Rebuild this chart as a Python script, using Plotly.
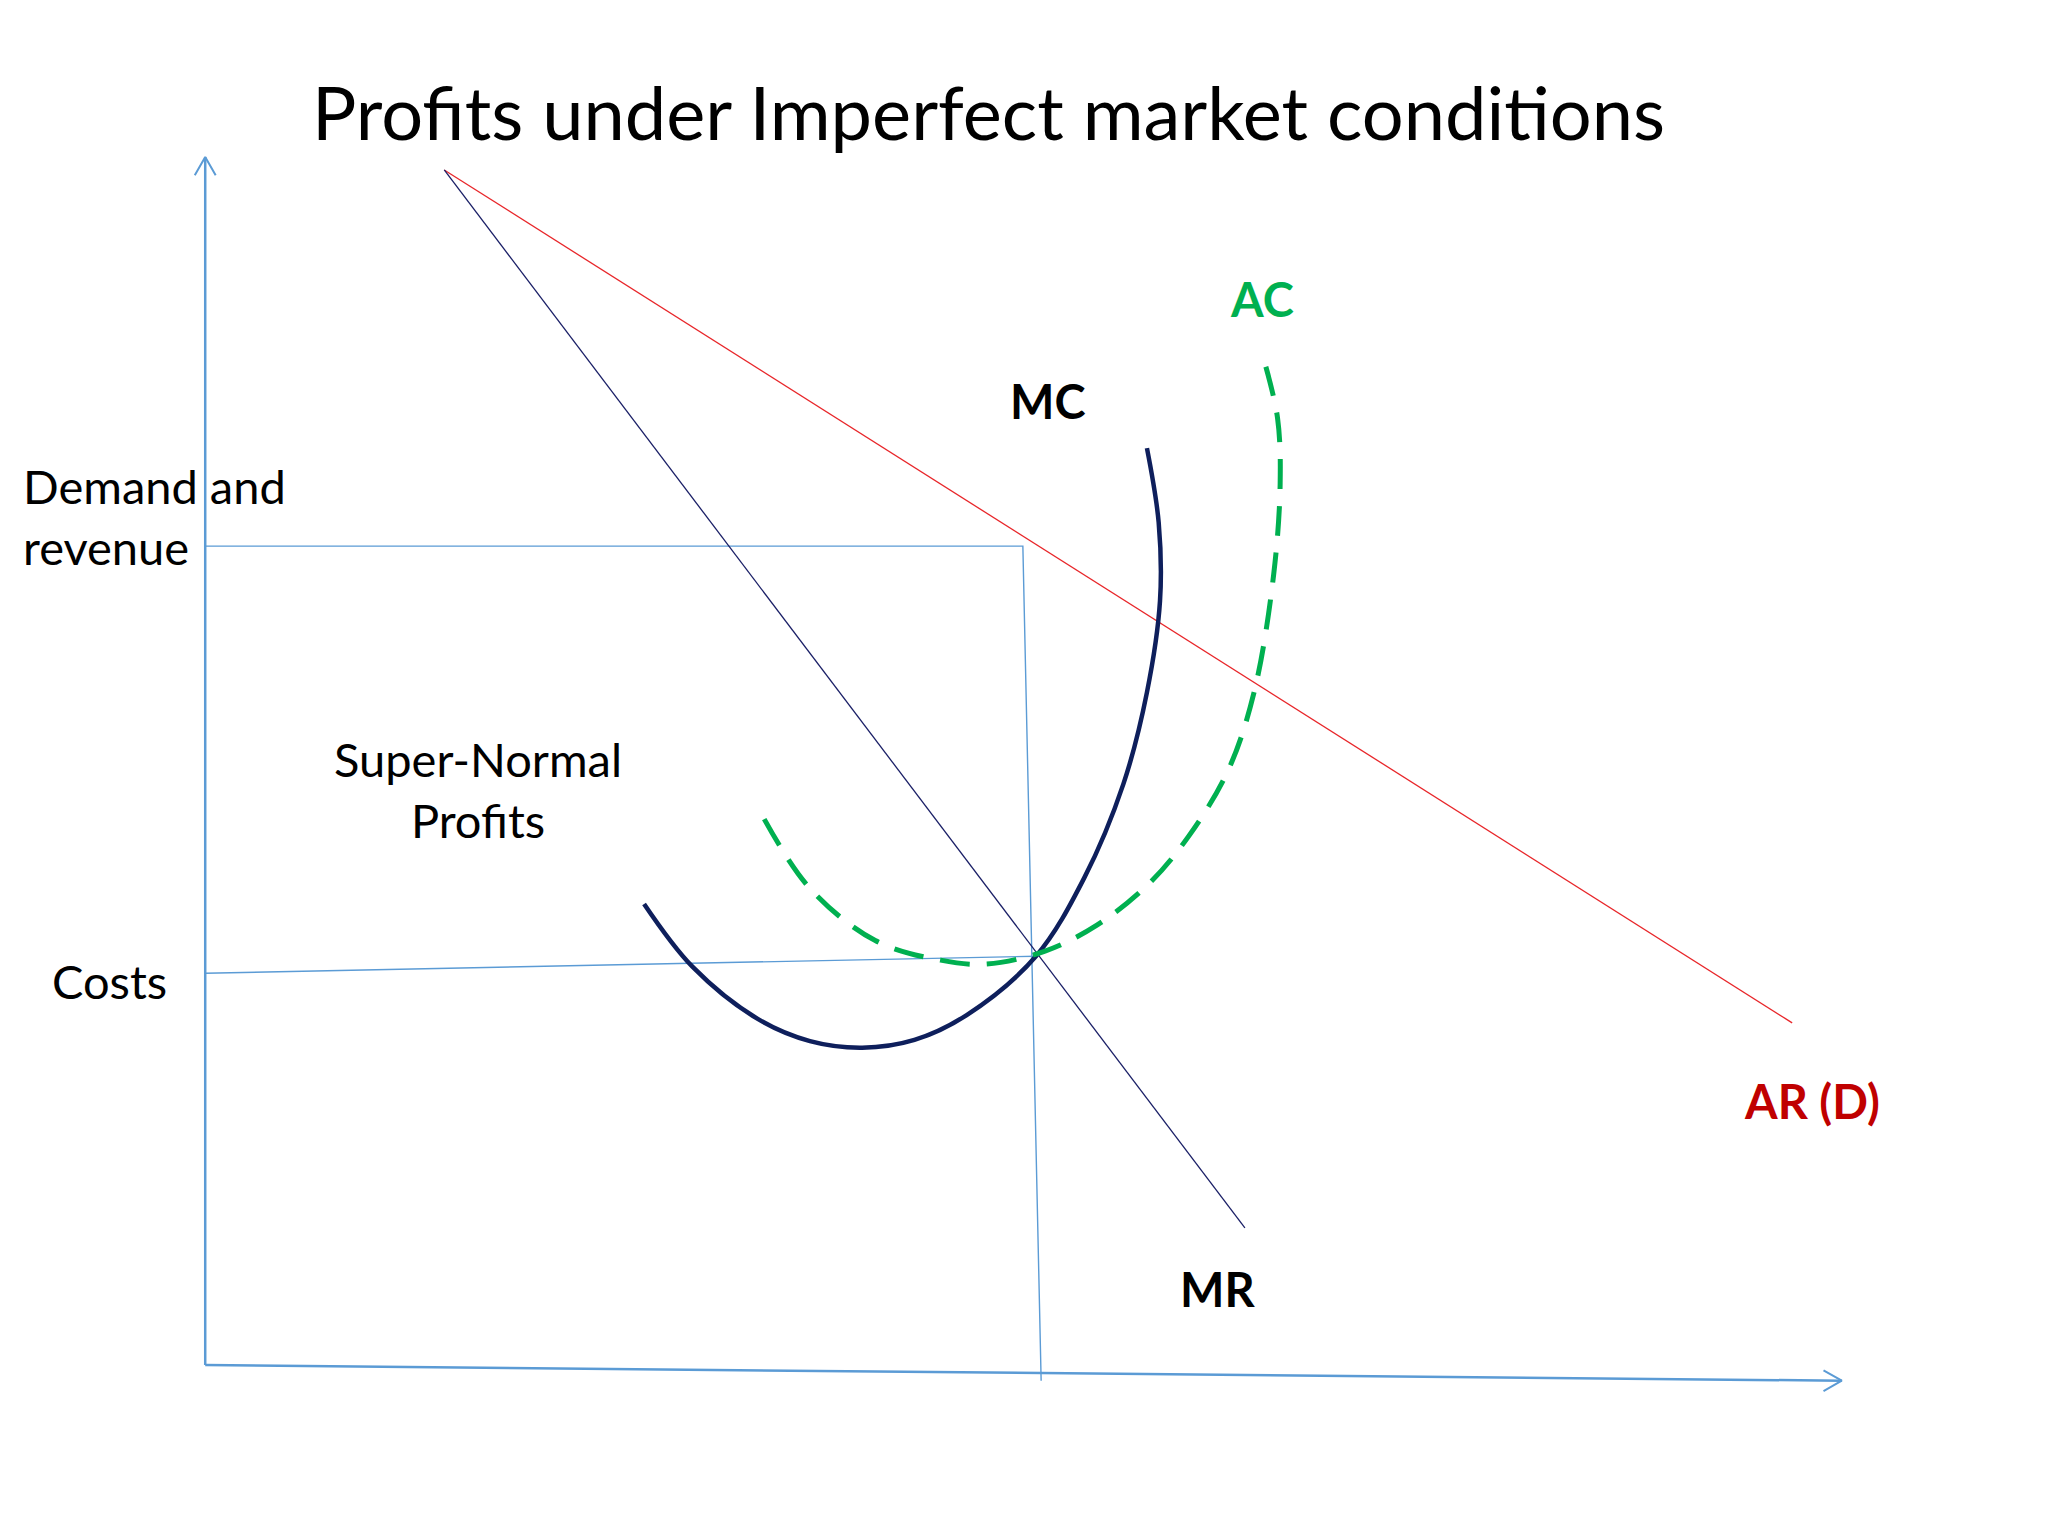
import plotly.graph_objects as go

# Diagram data (quantity on x, price / cost on y)
axis_y_top = 9.25
axis_x_end = [12.53, -0.12]

ar_x = [1.83, 12.15]
ar_y = [9.15, 2.62]

mr_x = [1.83, 7.96]
mr_y = [9.15, 1.05]

price_x = [0.0, 6.26, 6.40]
price_y = [6.27, 6.27, -0.12]

cost_x = [0.0, 6.36]
cost_y = [3.00, 3.13]

mc_x = [3.36, 3.73, 4.23, 4.63, 5.03, 5.43, 5.83, 6.36, 6.73, 7.03, 7.21, 7.31, 7.30, 7.21]
mc_y = [3.53, 3.05, 2.65, 2.48, 2.43, 2.49, 2.68, 3.13, 3.73, 4.45, 5.15, 5.85, 6.45, 7.02]

ac_x = [4.28, 4.63, 5.13, 5.63, 5.98, 6.43, 6.83, 7.23, 7.53, 7.83, 8.03, 8.18, 8.23, 8.21, 8.11]
ac_y = [4.18, 3.65, 3.25, 3.10, 3.07, 3.17, 3.37, 3.69, 4.05, 4.55, 5.15, 6.05, 6.75, 7.25, 7.68]

FONT = "Lato"
AXIS_BLUE = "#5b9bd5"

fig = go.Figure()

# axes
fig.add_trace(go.Scatter(x=[0, 0], y=[0, axis_y_top], mode="lines",
                         line=dict(color=AXIS_BLUE, width=2.5)))
fig.add_trace(go.Scatter(x=[0, axis_x_end[0]], y=[0, axis_x_end[1]], mode="lines",
                         line=dict(color=AXIS_BLUE, width=2.5)))
# open arrow heads
h = 0.14
w = 0.08
fig.add_trace(go.Scatter(x=[-w, 0, w], y=[axis_y_top - h, axis_y_top, axis_y_top - h], mode="lines",
                         line=dict(color=AXIS_BLUE, width=2)))
fig.add_trace(go.Scatter(x=[axis_x_end[0] - h, axis_x_end[0], axis_x_end[0] - h],
                         y=[axis_x_end[1] + w, axis_x_end[1], axis_x_end[1] - w], mode="lines",
                         line=dict(color=AXIS_BLUE, width=2)))

# guide lines
fig.add_trace(go.Scatter(x=price_x, y=price_y, mode="lines", line=dict(color=AXIS_BLUE, width=1.4)))
fig.add_trace(go.Scatter(x=cost_x, y=cost_y, mode="lines", line=dict(color=AXIS_BLUE, width=1.4)))

# revenue curves
fig.add_trace(go.Scatter(x=ar_x, y=ar_y, mode="lines", line=dict(color="#e8262a", width=1.3)))
fig.add_trace(go.Scatter(x=mr_x, y=mr_y, mode="lines", line=dict(color="#1a1f66", width=1.3)))

# cost curves
fig.add_trace(go.Scatter(x=mc_x, y=mc_y, mode="lines", line=dict(color="#0e1f5c", width=4.5, shape="spline")))
fig.add_trace(go.Scatter(x=ac_x, y=ac_y, mode="lines",
                         line=dict(color="#00b050", width=5, shape="spline", dash="30px,17px")))

labels = [
    dict(x=6.00, y=9.60, text="Profits under Imperfect market conditions", size=74, color="black", bold=False),
    dict(x=-0.73, y=2.94, text="Costs", size=47, color="black", bold=False),
    dict(x=2.09, y=4.41, text="Super-Normal<br>Profits", size=47, color="black", bold=False),
    dict(x=6.45, y=7.38, text="MC", size=47, color="black", bold=True),
    dict(x=8.09, y=8.16, text="AC", size=47, color="#00b050", bold=True),
    dict(x=7.75, y=0.58, text="MR", size=47, color="black", bold=True),
    dict(x=12.30, y=2.02, text="AR (D)", size=47, color="#c00000", bold=True),
]
for lb in labels:
    txt = "<b>" + lb["text"] + "</b>" if lb["bold"] else lb["text"]
    fig.add_annotation(x=lb["x"], y=lb["y"], text=txt, showarrow=False, align="center",
                       font=dict(family=FONT, size=lb["size"], color=lb["color"]))

fig.add_annotation(x=-1.41, y=6.50, text="Demand and<br>revenue", showarrow=False, xanchor="left",
                   align="left", font=dict(family=FONT, size=47, color="black"))

fig.update_layout(
    width=2048, height=1536,
    margin=dict(l=0, r=0, t=0, b=0),
    paper_bgcolor="white", plot_bgcolor="white",
    showlegend=False,
    xaxis=dict(range=[-1.51, 14.17], visible=False, fixedrange=True),
    yaxis=dict(range=[-1.37, 10.39], visible=False, fixedrange=True),
)

fig.write_html("out.html")
